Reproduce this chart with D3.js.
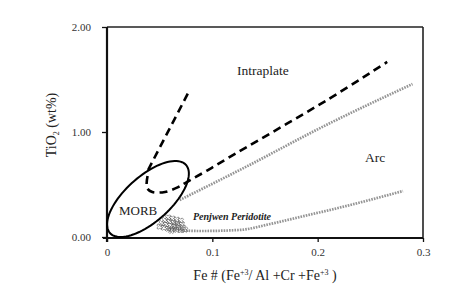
<!DOCTYPE html>
<html><head><meta charset="utf-8">
<script src="https://cdn.jsdelivr.net/npm/d3@7"></script>
<style>body{margin:0;background:#fff} text{font-family:"Liberation Serif","DejaVu Serif","Times New Roman",Times,serif}</style>
</head><body>
<svg id="c" width="474" height="301"></svg>
<script>
// ---- data ----
const xTicks = [0, 0.1, 0.2, 0.3];
const xTickLabels = ["0", "0.1", "0.2", "0.3"];
const yTicks = [0, 1, 2];
const yTickLabels = ["0.00", "1.00", "2.00"];

// upper boundary (dashed) Intraplate / Arc
const dashUpperX = [0.0385, 0.038, 0.043, 0.055, 0.067, 0.075, 0.095, 0.123, 0.209, 0.266];
const dashUpperY = [0.580, 0.467, 0.429, 0.429, 0.472, 0.519, 0.633, 0.800, 1.305, 1.667];
// steep dashed line
const dashSteepX = [0.039, 0.077];
const dashSteepY = [0.638, 1.371];
// gray dotted trends
const grayUpperX = [0.069, 0.126, 0.212, 0.290];
const grayUpperY = [0.352, 0.638, 1.086, 1.457];
const grayLowerX = [0.057, 0.088, 0.126, 0.155, 0.183, 0.231, 0.281];
const grayLowerY = [0.076, 0.057, 0.067, 0.124, 0.190, 0.305, 0.438];
// MORB field (ellipse: centre, conjugate semi-axes in data units)
const morbCenter = [0.0389, 0.362];
const morbAxisA = [0.0361, 0.324];
const morbAxisB = [0.0143, -0.161];
// Penjwen peridotite samples
const sampleX = [0.050,0.054,0.058,0.062,0.066,0.070,0.074,
                 0.052,0.056,0.060,0.064,0.068,0.072,
                 0.055,0.059,0.063,0.067,0.071,
                 0.058,0.062,0.066,0.070,0.061,0.065];
const sampleY = [0.100,0.090,0.080,0.075,0.070,0.065,0.070,
                 0.130,0.120,0.110,0.100,0.095,0.090,
                 0.160,0.150,0.140,0.130,0.120,
                 0.185,0.175,0.165,0.155,0.060,0.110];

// ---- drawing ----
const svg = d3.select("#c");
const x = d3.scaleLinear().domain([0, 0.3]).range([107, 423]);
const y = d3.scaleLinear().domain([0, 2]).range([237, 27]);

const line = d3.line().x(d => x(d[0])).y(d => y(d[1]));
const curve = d3.line().x(d => x(d[0])).y(d => y(d[1])).curve(d3.curveMonotoneX);
const zip = (a, b) => a.map((v, i) => [v, b[i]]);

// frame top/right
svg.append("line").attr("x1", 107).attr("x2", 423).attr("y1", 27).attr("y2", 27)
  .attr("stroke", "#222").attr("stroke-width", 1.6);
svg.append("line").attr("x1", 423).attr("x2", 423).attr("y1", 27).attr("y2", 238)
  .attr("stroke", "#222").attr("stroke-width", 1.6);

// axes
const xAxis = d3.axisBottom(x).tickValues(xTicks).tickFormat((d, i) => xTickLabels[i]).tickSize(4).tickSizeOuter(0);
const gx = svg.append("g").attr("transform", "translate(0,238)").call(xAxis);
gx.attr("font-family", null);
gx.select(".domain").attr("stroke", "#111").attr("stroke-width", 2.2).attr("d", "M103,0H423");
gx.selectAll(".tick line").attr("stroke", "#111").attr("stroke-width", 1.3);
gx.selectAll(".tick text").attr("font-size", 11).attr("fill", "#333").attr("dy", "1.0em");

const yAxis = d3.axisLeft(y).tickValues(yTicks).tickFormat((d, i) => yTickLabels[i]).tickSize(5).tickSizeOuter(0);
const gy = svg.append("g").attr("transform", "translate(107,0)").call(yAxis);
gy.attr("font-family", null);
gy.select(".domain").attr("stroke", "#111").attr("stroke-width", 2.2).attr("d", "M0,27V242");
gy.selectAll(".tick line").attr("stroke", "#111").attr("stroke-width", 1.3);
gy.selectAll(".tick text").attr("font-size", 11).attr("fill", "#333").attr("dx", "-8");

// gray dotted trends
[[grayUpperX, grayUpperY], [grayLowerX, grayLowerY]].forEach(([xs, ys]) => {
  svg.append("path").attr("d", curve(zip(xs, ys))).attr("fill", "none")
    .attr("stroke", "#959595").attr("stroke-width", 2.7)
    .attr("stroke-dasharray", "1.6,1.1");
});

// dashed boundaries
svg.append("path").attr("d", d3.line().x(d => x(d[0])).y(d => y(d[1])).curve(d3.curveCatmullRom)(zip(dashUpperX, dashUpperY)))
  .attr("fill", "none").attr("stroke", "#000").attr("stroke-width", 2.6).attr("stroke-dasharray", "8,5");
svg.append("path").attr("d", line(zip(dashSteepX, dashSteepY)))
  .attr("fill", "none").attr("stroke", "#000").attr("stroke-width", 2.6).attr("stroke-dasharray", "8,5");

// MORB ellipse
const ell = d3.range(0, 361, 4).map(t => {
  const r = t * Math.PI / 180;
  return [morbCenter[0] + Math.cos(r) * morbAxisA[0] + Math.sin(r) * morbAxisB[0],
          morbCenter[1] + Math.cos(r) * morbAxisA[1] + Math.sin(r) * morbAxisB[1]];
});
svg.append("path").attr("d", line(ell) + "Z").attr("fill", "none")
  .attr("stroke", "#000").attr("stroke-width", 2);

// samples
const sym = d3.symbol().type(d3.symbolCross).size(20);
svg.append("g").selectAll("path").data(zip(sampleX, sampleY)).join("path")
  .attr("d", sym)
  .attr("transform", d => `translate(${x(d[0])},${y(d[1])}) rotate(45)`)
  .attr("fill", "none").attr("stroke", "#555").attr("stroke-width", 0.6);

// labels
const txt = (s, px, py, size, opts = {}) => svg.append("text").attr("x", px).attr("y", py)
  .attr("font-size", size).attr("fill", opts.fill || "#222")
  .attr("text-anchor", opts.anchor || "start").attr("font-style", opts.italic ? "italic" : null)
  .attr("font-weight", opts.bold ? "bold" : null).text(s);
txt("Intraplate", 237, 75, 13.5);
txt("Arc", 365, 162, 13.5);
txt("MORB", 119, 215, 13);
txt("Penjwen Peridotite", 193, 220, 10, {italic: true, bold: true});

// axis titles
const xt = svg.append("text").attr("x", 265).attr("y", 280).attr("text-anchor", "middle")
  .attr("font-size", 14).attr("fill", "#222");
xt.append("tspan").text("Fe # (Fe");
xt.append("tspan").text("+3").attr("font-size", 8).attr("dy", -5);
xt.append("tspan").text("/ Al +Cr +Fe").attr("dy", 5);
xt.append("tspan").text("+3").attr("font-size", 8).attr("dy", -5);
xt.append("tspan").text(" )").attr("dy", 5);

const yt = svg.append("text").attr("transform", "translate(56,125) rotate(-90)")
  .attr("text-anchor", "middle").attr("font-size", 14).attr("fill", "#222");
yt.append("tspan").text("TiO");
yt.append("tspan").text("2").attr("font-size", 8).attr("dy", 3);
yt.append("tspan").text(" (wt%)").attr("dy", -3);
</script>
</body></html>
